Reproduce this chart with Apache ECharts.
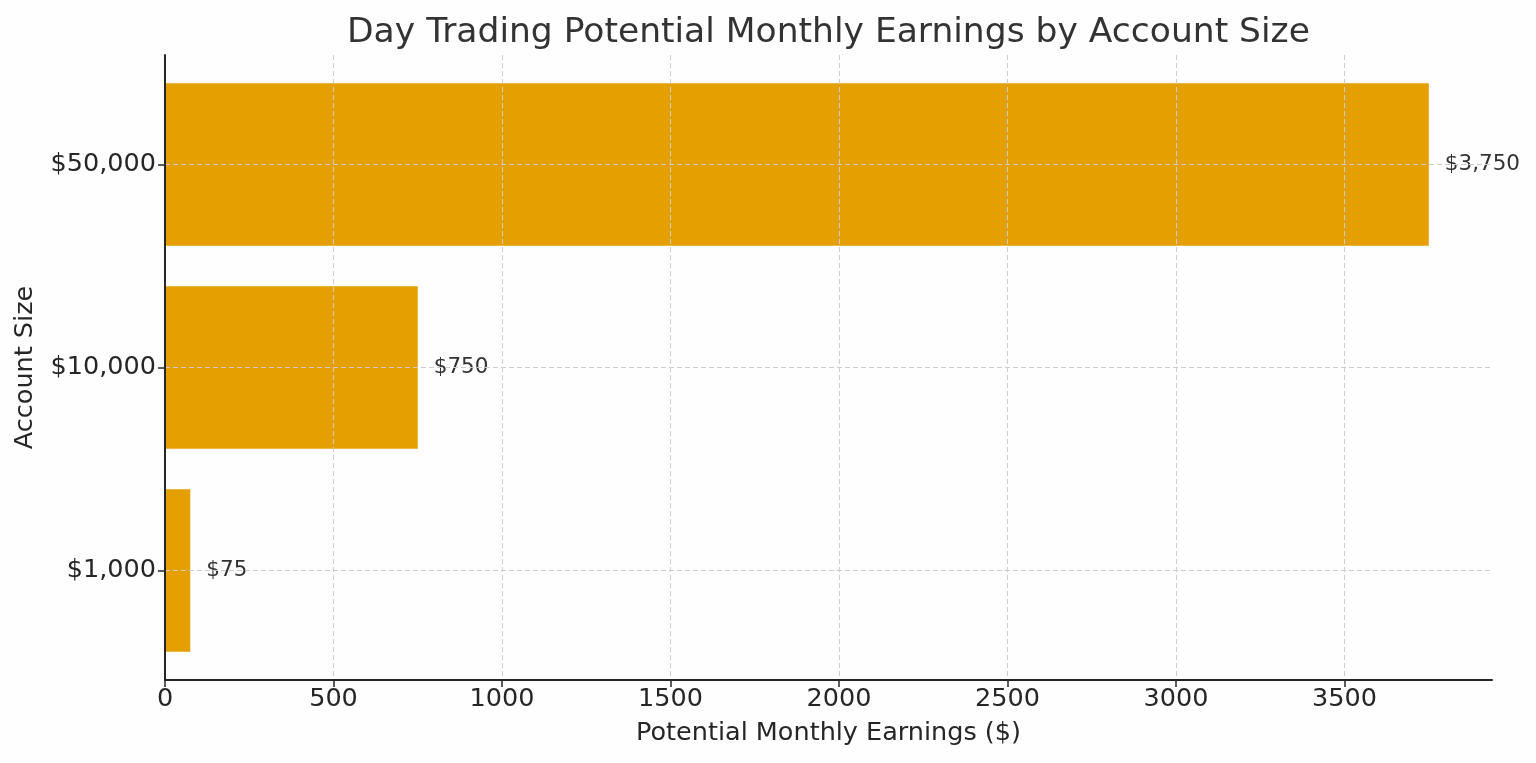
<!DOCTYPE html>
<html>
<head>
<meta charset="utf-8">
<script src="https://cdn.jsdelivr.net/npm/echarts@6/dist/echarts.min.js"></script>
<style>
html,body{margin:0;padding:0;background:#fff;}
#chart{width:1536px;height:763px;}
</style>
</head>
<body>
<div id="chart"></div>
<script>
const categories = ['$1,000', '$10,000', '$50,000'];
const earnings = [75, 750, 3750];
const xTickMax = 3500;
const xTickStep = 500;
const xAxisMax = 3937.5;

const FONT = 'DejaVu Sans';
const TXT = '#333333';
const TICKTXT = '#262626';
const AX = '#262626';
const GRID = '#cccccc';

const chart = echarts.init(document.getElementById('chart'));
const plotLeft = 165, plotRight = 44, plotTop = 55, plotBottom = 83;
const plotW = 1536 - plotLeft - plotRight;

chart.setOption({
  backgroundColor: '#fefefe',
  animation: false,
  title: {
    text: 'Day Trading Potential Monthly Earnings by Account Size',
    left: plotLeft + plotW / 2 - 5, textAlign: 'center', top: 11,
    textStyle: { fontFamily: FONT, fontSize: 34.5, fontWeight: 'normal', color: TXT }
  },
  grid: [
    { left: plotLeft, right: plotRight, top: plotTop, bottom: plotBottom },
    { left: plotLeft, right: plotRight, top: 63, height: 609 },
    { left: plotLeft, width: plotW * xTickMax / xAxisMax, top: plotTop, bottom: plotBottom }
  ],
  xAxis: [
    {
      gridIndex: 0, type: 'value', min: 0, max: xAxisMax, z: 12,
      axisLine: { show: true, lineStyle: { color: AX, width: 2 } },
      axisTick: { show: false }, axisLabel: { show: false }, splitLine: { show: false },
      name: 'Potential Monthly Earnings ($)', nameLocation: 'middle', nameGap: 40,
      nameTextStyle: { fontFamily: FONT, fontSize: 25.5, color: TICKTXT }
    },
    {
      gridIndex: 1, type: 'value', min: 0, max: xAxisMax, show: false
    },
    {
      gridIndex: 2, type: 'value', min: 0, max: xTickMax, interval: xTickStep, z: 10,
      axisLine: { show: false },
      axisTick: { show: true, inside: false, length: 7, lineStyle: { color: AX, width: 1.5 } },
      axisLabel: { fontFamily: FONT, fontSize: 25.5, color: TICKTXT, margin: 6, formatter: v => String(v) },
      splitLine: { show: true, lineStyle: { color: GRID, type: [5, 3], width: 1 } }
    }
  ],
  yAxis: [
    {
      gridIndex: 0, type: 'value', min: 0, max: 1, z: 12,
      axisLine: { show: true, lineStyle: { color: AX, width: 2 } },
      axisTick: { show: false }, axisLabel: { show: false }, splitLine: { show: false },
      name: 'Account Size', nameLocation: 'middle', nameGap: 127, nameRotate: 90,
      nameTextStyle: { fontFamily: FONT, fontSize: 25.5, color: TICKTXT }
    },
    {
      gridIndex: 1, type: 'category', data: categories,
      axisLine: { show: false },
      axisTick: { show: true, alignWithLabel: true, length: 7, lineStyle: { color: AX, width: 1.5 } },
      axisLabel: { fontFamily: FONT, fontSize: 25.5, color: TICKTXT, margin: 9 },
      splitLine: { show: false }
    },
    {
      gridIndex: 2, type: 'value', show: false
    }
  ],
  series: [{
    type: 'bar', xAxisIndex: 1, yAxisIndex: 1,
    data: earnings, barWidth: '80%',
    itemStyle: { color: '#E69F00' },
    label: {
      show: true, position: 'right', distance: 16,
      formatter: p => '$' + p.value.toLocaleString('en-US'),
      fontFamily: FONT, fontSize: 21.5, color: TXT
    },
    markLine: {
      silent: true, symbol: 'none', label: { show: false },
      lineStyle: { color: GRID, type: [5, 3], width: 1 },
      data: categories.map(c => ({ yAxis: c }))
    }
  }]
});
</script>
</body>
</html>
